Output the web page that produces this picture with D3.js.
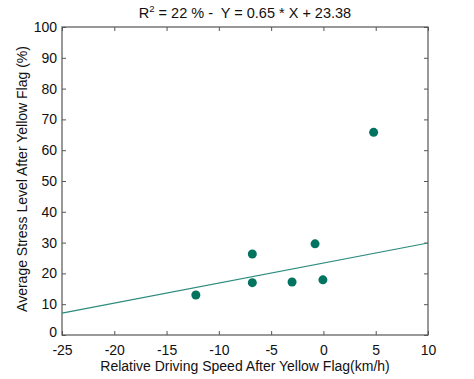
<!DOCTYPE html>
<html><head><meta charset="utf-8">
<script src="https://cdn.jsdelivr.net/npm/d3@7"></script>
<style>body{margin:0;background:#fff;} text{font-family:"Liberation Sans",Arial,sans-serif;}</style>
</head><body>
<svg id="c" width="474" height="379"></svg>
<script>
const speedX = [-12.2, -6.8, -6.8, -3.0, -0.8, -0.05, 4.8];
const stressY = [13.0, 26.3, 17.0, 17.2, 29.6, 17.9, 65.8];
const xTicks = [-25, -20, -15, -10, -5, 0, 5, 10];
const yTicks = [0, 10, 20, 30, 40, 50, 60, 70, 80, 90, 100];
const slope = 0.65, intercept = 23.38;

const svg = d3.select("#c");
const L = 62, R = 428, T = 27, B = 335;
const x = d3.scaleLinear().domain([-25, 10]).range([L, R]);
const y = d3.scaleLinear().domain([0, 100]).range([B, T]);
const axisColor = "#555";
const fmt = d => String(d);

function style(g){
  g.selectAll(".domain").remove();
  g.selectAll("line").attr("stroke", axisColor);
  g.selectAll("text").attr("font-size", 14).attr("fill", "#111");
}
svg.append("g").attr("transform", `translate(0,${B})`)
  .call(d3.axisBottom(x).tickValues(xTicks).tickFormat(fmt).tickSize(-4).tickPadding(10)).call(style);
svg.append("g").attr("transform", `translate(0,${T})`)
  .call(d3.axisTop(x).tickValues(xTicks).tickSize(-4).tickFormat("")).call(style);
const yAx = svg.append("g").attr("transform", `translate(${L},0)`)
  .call(d3.axisLeft(y).tickValues(yTicks).tickFormat(fmt).tickSize(-4).tickPadding(5)).call(style);
yAx.selectAll(".tick text").filter(d => d === 0).attr("dy", "0.1em");
svg.append("g").attr("transform", `translate(${R},0)`)
  .call(d3.axisRight(y).tickValues(yTicks).tickSize(-4).tickFormat("")).call(style);

svg.append("rect").attr("x", L).attr("y", T).attr("width", R - L).attr("height", B - T)
  .attr("fill", "none").attr("stroke", axisColor).attr("stroke-width", 1.2);

svg.append("line")
  .attr("x1", x(-25)).attr("y1", y(slope * -25 + intercept))
  .attr("x2", x(10)).attr("y2", y(slope * 10 + intercept))
  .attr("stroke", "#2a8a7c").attr("stroke-width", 1.2);

svg.selectAll("circle.pt").data(speedX.map((v, i) => [v, stressY[i]])).enter()
  .append("circle").attr("class", "pt")
  .attr("cx", d => x(d[0])).attr("cy", d => y(d[1])).attr("r", 4.5)
  .attr("fill", "#00745f");

const title = svg.append("text").attr("x", 245).attr("y", 18).attr("text-anchor", "middle")
  .attr("font-size", 14.5).attr("fill", "#111").attr("xml:space", "preserve");
title.append("tspan").text("R");
title.append("tspan").attr("dy", -6).attr("font-size", 9.5).text("2");
title.append("tspan").attr("dy", 6).text(" = 22 % -\u00a0 Y = 0.65 * X + 23.38");

svg.append("text").attr("x", 245).attr("y", 371).attr("text-anchor", "middle")
  .attr("font-size", 14).attr("fill", "#111").text("Relative Driving Speed After Yellow Flag(km/h)");
svg.append("text").attr("transform", `translate(27,179) rotate(-90)`)
  .attr("text-anchor", "middle").attr("font-size", 14).attr("fill", "#111")
  .text("Average Stress Level After Yellow Flag (%)");
</script>
</body></html>
